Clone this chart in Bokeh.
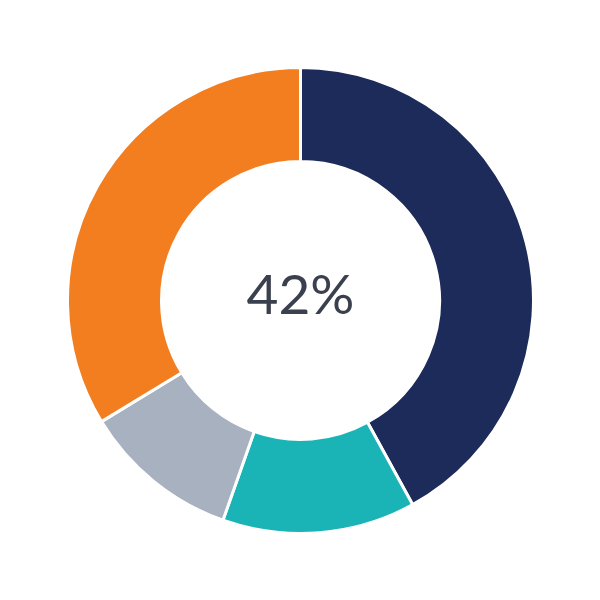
import math
from bokeh.plotting import figure
from bokeh.models import ColumnDataSource, Range1d
from bokeh.core.properties import value
from bokeh.embed import file_html
from bokeh.resources import INLINE

segments = ["Navy", "Teal", "Gray", "Orange"]
shares = [42, 13.4, 10.9, 33.7]
colors = ["#1c2b5a", "#1bb4b6", "#a7b1c0", "#f27e20"]
center_label = "42%"

total = sum(shares)
starts, ends = [], []
cum = 0
for s in shares:
    starts.append(math.pi / 2 - 2 * math.pi * cum / total)
    cum += s
    ends.append(math.pi / 2 - 2 * math.pi * cum / total)

src = ColumnDataSource(dict(seg=segments, share=shares, color=colors, start=starts, end=ends))

W = 584
p = figure(width=W, height=W, output_backend="svg", toolbar_location=None,
           x_range=Range1d(-300, 284), y_range=Range1d(-284, 300),
           min_border=0, outline_line_color=None)
p.axis.visible = False
p.grid.visible = False
p.background_fill_color = "white"
p.border_fill_color = "white"

p.annular_wedge(x=0, y=0, inner_radius=139, outer_radius=233,
                start_angle="start", end_angle="end", direction="clock",
                fill_color="color", line_color="white", line_width=3, source=src)

p.text(x=[0], y=[8], text=[center_label], text_align="center", text_baseline="middle",
       text_font=value("Lato"), text_font_size="55px", text_color="#3a404d")

open("out.html", "w").write(file_html(p, INLINE))
